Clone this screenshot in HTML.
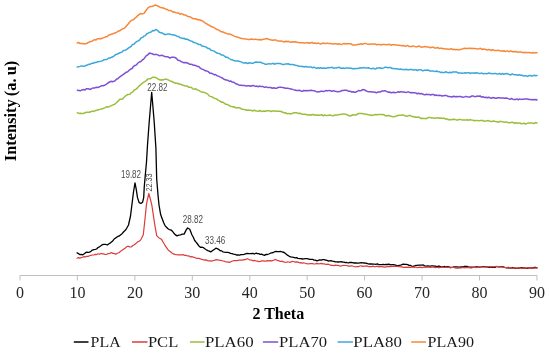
<!DOCTYPE html>
<html><head><meta charset="utf-8"><style>html,body{margin:0;padding:0;background:#fff;}svg{display:block;}</style></head>
<body><svg width="550" height="353" viewBox="0 0 550 353">
<rect width="550" height="353" fill="#fff"/>
<line x1="20" y1="275.5" x2="537" y2="275.5" stroke="#bfbfbf" stroke-width="1"/>
<line x1="20.0" y1="275.5" x2="20.0" y2="280.5" stroke="#bfbfbf" stroke-width="1"/><line x1="77.4" y1="275.5" x2="77.4" y2="280.5" stroke="#bfbfbf" stroke-width="1"/><line x1="134.9" y1="275.5" x2="134.9" y2="280.5" stroke="#bfbfbf" stroke-width="1"/><line x1="192.3" y1="275.5" x2="192.3" y2="280.5" stroke="#bfbfbf" stroke-width="1"/><line x1="249.8" y1="275.5" x2="249.8" y2="280.5" stroke="#bfbfbf" stroke-width="1"/><line x1="307.2" y1="275.5" x2="307.2" y2="280.5" stroke="#bfbfbf" stroke-width="1"/><line x1="364.6" y1="275.5" x2="364.6" y2="280.5" stroke="#bfbfbf" stroke-width="1"/><line x1="422.1" y1="275.5" x2="422.1" y2="280.5" stroke="#bfbfbf" stroke-width="1"/><line x1="479.5" y1="275.5" x2="479.5" y2="280.5" stroke="#bfbfbf" stroke-width="1"/><line x1="537.0" y1="275.5" x2="537.0" y2="280.5" stroke="#bfbfbf" stroke-width="1"/>
<g font-family="Liberation Serif, serif" font-size="16" fill="#262626"><text x="20.0" y="298.4" text-anchor="middle">0</text><text x="77.4" y="298.4" text-anchor="middle">10</text><text x="134.9" y="298.4" text-anchor="middle">20</text><text x="192.3" y="298.4" text-anchor="middle">30</text><text x="249.8" y="298.4" text-anchor="middle">40</text><text x="307.2" y="298.4" text-anchor="middle">50</text><text x="364.6" y="298.4" text-anchor="middle">60</text><text x="422.1" y="298.4" text-anchor="middle">70</text><text x="479.5" y="298.4" text-anchor="middle">80</text><text x="537.0" y="298.4" text-anchor="middle">90</text></g>
<polyline points="77.1,252.9 78.4,253.6 79.7,254.6 81.1,254.4 82.5,254.9 83.9,254.0 85.3,252.9 86.7,252.2 88.2,252.4 89.6,252.1 91.0,251.2 92.4,250.1 93.8,249.7 95.2,249.4 96.6,249.0 98.0,247.5 99.5,246.8 100.9,245.8 102.3,244.7 103.7,244.4 105.5,244.3 107.3,245.0 109.0,243.7 110.8,242.6 112.4,241.3 114.1,239.1 115.7,237.9 117.5,236.7 119.3,235.9 120.7,234.7 122.1,233.7 123.5,232.0 125.0,230.5 126.4,228.8 128.5,225.0 130.5,216.0 132.0,204.0 133.5,192.0 135.0,182.9 136.3,189.7 137.5,197.6 139.2,202.7 140.9,203.5 142.6,202.2 143.7,197.6 144.3,186.3 145.3,175.0 146.5,162.0 147.5,145.0 149.2,122.0 151.7,92.3 154.2,122.0 155.9,148.0 156.7,179.0 158.1,196.0 159.0,205.0 160.7,214.8 163.7,222.8 165.0,225.6 166.3,227.0 167.7,228.5 169.2,229.6 170.7,229.9 172.1,230.9 173.5,232.7 175.2,234.6 177.0,235.9 178.8,235.2 180.6,234.8 182.3,234.1 184.1,234.1 186.2,229.9 187.6,228.0 189.8,229.2 191.9,234.8 193.3,237.3 194.7,240.5 196.1,242.1 197.5,244.0 198.9,245.9 200.4,247.3 201.8,247.1 203.2,247.5 204.8,248.7 206.3,249.7 207.8,250.6 209.3,251.1 210.8,251.9 212.3,250.8 213.8,249.7 215.9,248.2 217.2,248.6 218.6,249.3 219.9,250.5 221.4,250.8 222.9,251.8 224.4,252.2 225.9,252.3 227.5,252.4 229.0,252.7 230.5,253.3 232.0,253.7 233.5,254.2 235.0,254.3 236.5,255.0 238.0,255.0 239.5,255.1 241.0,254.6 242.5,254.7 244.0,254.3 245.6,253.8 247.1,253.3 248.6,253.7 250.1,253.6 251.6,253.5 253.0,253.3 254.4,254.0 255.9,253.2 257.3,253.5 258.7,253.6 260.1,254.3 261.6,254.2 263.1,254.9 264.5,255.4 266.0,254.4 267.4,254.5 268.9,254.0 270.4,253.2 271.8,252.8 273.3,252.5 274.7,251.7 276.1,251.5 277.6,251.7 279.1,251.6 280.5,251.4 282.4,252.0 284.2,252.5 286.0,253.9 287.8,255.4 289.3,256.3 290.7,256.9 292.2,257.1 293.6,257.4 295.1,257.8 296.6,257.6 298.0,258.3 299.5,258.6 300.9,258.6 302.4,259.0 303.8,258.9 305.3,258.7 306.8,258.7 308.2,258.9 309.7,259.4 311.1,259.4 312.6,259.3 314.0,260.1 315.4,260.2 316.9,260.9 318.3,260.3 319.8,259.9 321.2,260.2 322.7,259.7 324.1,259.6 325.5,260.0 326.9,260.3 328.3,261.0 329.7,260.9 331.1,260.7 332.5,261.1 333.9,261.3 335.3,261.8 336.7,261.8 338.1,262.0 339.5,261.8 341.0,261.7 342.4,262.0 343.9,262.1 345.3,262.7 346.8,262.5 348.3,263.0 349.7,262.4 351.2,262.5 352.6,262.7 354.1,263.0 355.6,262.8 357.0,263.0 358.5,263.1 359.9,262.8 361.4,262.6 362.8,262.9 364.3,263.0 365.7,263.1 367.2,263.5 368.6,264.0 370.1,264.0 371.5,264.0 373.0,264.1 374.4,264.2 375.9,264.3 377.4,263.8 378.8,264.6 380.3,264.6 381.7,264.7 383.2,264.4 384.6,264.7 386.1,264.4 387.5,264.5 389.0,264.2 390.4,264.8 391.9,264.7 393.3,264.6 394.8,264.9 396.2,265.3 397.7,265.9 399.2,265.3 400.7,265.1 402.1,264.5 403.6,264.2 405.1,264.3 406.4,264.3 407.7,264.7 409.0,265.3 410.3,265.3 411.6,266.1 413.1,266.3 414.5,265.9 416.0,265.4 417.4,265.3 418.9,265.2 420.3,265.1 421.8,265.1 423.3,265.0 424.7,265.8 426.2,266.1 427.6,265.9 429.1,266.1 430.4,266.1 431.7,265.9 433.1,265.9 434.4,266.2 435.7,266.2 437.0,266.8 438.3,266.2 439.6,266.2 441.0,267.1 442.3,266.8 443.6,266.8 444.9,266.5 446.3,266.9 447.6,266.5 448.9,266.9 450.2,267.4 451.6,267.3 452.9,267.2 454.2,266.8 455.5,266.9 456.9,266.8 458.2,267.1 459.7,267.2 461.1,266.9 462.6,267.0 464.0,266.5 465.5,266.5 466.9,266.3 468.3,266.9 469.8,267.1 471.2,267.1 472.6,267.1 474.0,267.1 475.4,267.1 476.9,266.7 478.3,267.1 479.7,267.1 481.1,266.9 482.5,266.6 483.9,266.6 485.2,266.8 486.6,266.8 488.0,267.1 489.4,267.4 490.8,266.9 492.2,267.3 493.6,267.3 494.9,267.3 496.3,266.7 497.7,266.6 499.1,266.8 500.4,266.7 501.7,266.7 503.1,266.9 504.4,267.3 505.7,267.7 507.0,267.8 508.3,267.5 509.6,267.8 511.0,268.1 512.3,267.5 513.6,268.0 515.0,268.1 516.4,268.3 517.7,268.2 519.1,268.2 520.5,267.9 521.9,267.6 523.2,268.2 524.6,267.8 526.0,268.2 527.4,268.3 528.7,267.8 530.1,267.8 531.5,268.2 532.9,268.0 534.2,267.5 535.6,267.5 537.0,267.8" fill="none" stroke="#000000" stroke-width="1.3" stroke-linejoin="round" stroke-linecap="round"/>
<polyline points="77.1,258.2 78.4,257.6 79.8,258.1 81.2,257.7 82.5,257.2 83.9,256.6 85.3,256.9 86.7,256.3 88.1,256.4 89.6,255.8 91.0,255.3 92.4,255.0 93.8,255.0 95.2,254.4 96.6,254.6 98.0,253.8 99.5,254.3 100.9,253.5 102.3,253.8 103.7,253.9 105.1,254.5 106.5,254.3 108.2,253.6 109.8,253.4 111.5,252.5 112.9,253.4 114.3,253.4 115.7,254.3 117.5,253.2 119.3,252.5 121.0,250.9 122.8,249.7 125.0,248.2 127.1,246.4 128.4,246.4 129.7,246.9 131.0,247.0 132.6,245.7 134.3,244.7 135.9,243.6 137.6,241.9 139.2,241.3 140.9,239.6 143.3,234.7 144.8,220.8 145.4,215.0 146.4,204.9 147.1,201.0 148.8,193.5 150.3,199.0 151.8,204.9 154.8,224.8 156.7,235.7 158.7,237.7 160.2,238.5 161.7,239.6 163.2,242.2 164.7,244.8 166.2,247.1 167.7,249.3 169.0,250.8 170.3,251.5 171.6,252.7 173.3,253.9 175.0,254.3 176.5,254.6 178.0,254.8 179.3,254.9 180.7,254.9 182.0,254.9 183.4,254.7 184.8,255.4 186.2,255.4 187.6,256.0 189.0,255.9 190.4,256.9 191.9,256.6 193.3,257.2 194.7,257.5 196.1,258.1 197.6,258.3 199.0,258.4 200.4,258.9 201.8,259.3 203.2,259.6 204.7,260.2 206.1,259.9 207.5,260.6 208.9,260.9 210.3,260.8 211.7,261.2 213.1,260.5 214.5,260.4 215.9,259.7 217.6,259.9 219.3,260.2 221.0,260.3 222.7,261.0 224.4,261.2 225.9,262.0 227.5,261.9 229.0,262.4 230.5,261.9 232.0,261.3 233.5,260.7 235.0,260.6 236.5,260.6 238.0,260.3 239.5,260.2 241.0,260.2 242.5,260.1 244.0,259.6 245.6,259.6 247.1,258.7 248.6,259.3 250.1,260.0 251.6,260.1 253.0,260.8 254.4,260.4 255.9,261.0 257.3,261.2 258.7,261.6 260.2,261.5 261.6,260.9 263.1,260.9 264.5,261.2 266.0,261.1 267.4,260.7 268.9,260.8 270.3,260.6 271.8,260.9 273.6,260.3 275.5,259.4 277.3,260.4 279.1,260.9 280.6,261.5 282.0,261.1 283.5,261.9 284.9,262.2 286.4,262.3 287.8,261.8 289.3,262.3 290.7,262.2 292.2,261.4 293.6,261.5 295.1,262.1 296.5,261.8 298.0,262.1 299.4,262.8 300.9,262.6 302.4,263.1 303.8,262.8 305.3,263.3 306.7,263.6 308.2,263.8 309.7,263.7 311.1,263.5 312.6,263.6 314.0,264.0 315.5,263.8 316.9,263.4 318.4,263.8 319.8,263.7 321.3,263.4 322.7,263.8 324.1,263.8 325.5,264.3 326.9,264.4 328.3,264.2 329.7,264.8 331.1,265.4 332.5,265.4 333.9,265.7 335.3,265.1 336.7,265.4 338.1,265.3 339.5,265.9 341.0,266.1 342.4,265.5 343.9,265.3 345.3,265.5 346.8,265.5 348.3,266.1 349.7,266.2 351.2,265.9 352.6,266.0 354.1,266.5 355.6,266.8 357.0,266.5 358.5,266.6 359.9,266.0 361.4,265.9 362.8,266.4 364.3,266.2 365.8,266.2 367.2,265.9 368.6,266.7 370.1,266.5 371.6,266.7 373.0,266.1 374.4,266.8 375.9,266.5 377.4,266.2 378.8,266.9 380.3,266.6 381.7,266.6 383.2,266.8 384.6,267.2 386.1,266.9 387.6,266.6 389.0,266.4 390.5,266.7 391.9,266.4 393.4,266.2 394.8,266.5 396.2,266.3 397.6,266.3 399.0,266.6 400.5,266.8 401.9,266.9 403.3,267.4 404.7,267.3 406.1,267.1 407.5,267.4 408.9,267.1 410.3,267.3 411.7,267.0 413.1,267.2 414.5,267.5 415.8,267.0 417.2,267.6 418.5,267.4 419.8,267.1 421.1,267.3 422.5,267.7 423.8,266.9 425.1,267.5 426.4,267.1 427.8,267.1 429.1,267.1 430.4,267.4 431.7,267.1 433.1,267.2 434.4,267.4 435.7,267.7 437.0,267.2 438.3,267.7 439.6,267.6 441.0,267.5 442.3,267.4 443.6,267.5 444.9,267.4 446.3,267.2 447.6,267.3 449.0,267.3 450.3,267.9 451.7,267.5 453.0,267.5 454.4,267.4 455.7,268.2 457.1,268.2 458.4,268.1 459.8,267.8 461.1,268.0 462.4,267.7 463.8,267.7 465.1,267.8 466.4,267.4 467.7,267.6 469.1,267.4 470.4,268.0 471.7,267.9 473.1,267.5 474.4,267.1 475.7,267.7 477.0,267.1 478.4,267.0 479.7,267.1 481.1,266.6 482.5,267.0 483.9,267.0 485.2,267.0 486.6,266.7 488.0,267.0 489.4,266.5 490.8,266.7 492.2,266.5 493.6,266.8 494.9,266.5 496.3,266.4 497.7,266.6 499.1,266.8 500.4,266.7 501.7,267.1 503.1,267.2 504.4,267.5 505.7,267.5 507.0,267.6 508.3,267.9 509.6,267.6 511.0,267.6 512.3,268.3 513.6,268.0 515.0,267.7 516.4,268.2 517.7,268.1 519.1,267.5 520.5,268.2 521.9,268.3 523.2,268.0 524.6,268.1 526.0,268.2 527.4,267.6 528.7,267.9 530.1,267.9 531.5,268.1 532.9,268.1 534.2,268.1 535.6,267.9 537.0,267.8" fill="none" stroke="#DC3C3C" stroke-width="1.2" stroke-linejoin="round" stroke-linecap="round"/>
<polyline points="77.4,112.8 79.0,113.4 80.5,113.3 82.0,113.5 83.6,113.4 85.0,112.8 86.4,112.3 87.9,112.2 89.3,112.3 90.7,111.8 92.1,111.1 93.5,111.5 94.9,110.8 96.6,110.3 98.3,109.7 99.7,109.4 101.2,109.0 102.6,108.7 104.0,108.1 105.4,107.6 106.8,106.7 108.2,107.1 109.6,106.3 111.0,105.9 112.4,105.1 113.9,104.5 115.3,103.8 117.0,102.3 118.7,100.4 120.2,99.2 121.7,99.3 123.2,98.3 124.7,96.8 126.3,95.3 127.8,94.5 130.0,94.2 131.4,92.6 132.9,91.9 134.3,90.0 135.7,89.3 137.2,88.2 138.6,86.4 140.1,85.2 141.6,83.8 143.1,82.7 144.7,81.7 146.2,80.6 147.7,79.1 149.3,78.8 150.9,78.4 152.5,77.3 154.1,77.3 155.7,77.6 157.3,78.4 158.9,79.6 160.5,80.0 161.9,79.7 163.4,79.9 164.8,79.2 166.3,79.2 167.7,79.6 170.0,80.9 171.5,81.2 173.1,82.3 174.6,82.7 175.9,83.2 177.3,83.3 178.8,84.0 180.2,84.1 181.7,84.8 183.2,85.3 184.6,85.7 185.9,86.1 187.3,86.1 188.6,87.3 190.0,87.3 191.5,87.5 192.9,88.9 194.4,89.3 195.8,88.8 197.3,89.9 198.8,90.4 200.3,91.4 201.9,92.2 203.4,92.2 204.9,92.6 206.4,93.4 207.8,94.1 209.1,95.9 210.5,96.4 212.0,96.8 213.5,97.9 215.0,98.5 216.5,98.9 218.0,100.1 219.5,100.9 221.2,102.2 222.8,102.1 224.5,103.3 225.9,104.3 227.2,104.5 228.6,105.1 230.2,106.2 231.8,106.4 233.2,107.0 234.5,106.8 235.9,107.9 237.3,107.8 238.7,107.7 240.0,108.0 241.4,108.9 242.8,109.2 244.1,109.5 245.5,109.7 246.8,110.3 248.2,110.0 249.7,110.3 251.2,110.3 252.6,111.0 254.1,110.2 255.5,110.8 257.0,111.1 258.5,111.2 260.0,110.5 261.5,111.4 263.0,111.2 264.5,111.0 265.8,111.4 267.1,110.7 268.4,110.8 269.7,110.8 271.0,111.5 272.3,111.0 273.6,110.9 275.1,111.0 276.6,111.3 278.1,111.3 279.7,111.3 281.2,111.5 282.7,112.2 284.2,112.9 285.6,112.7 287.1,113.8 288.5,113.4 290.0,114.0 291.4,113.4 292.8,113.4 294.1,112.7 295.5,112.7 297.0,112.8 298.5,113.6 300.0,113.3 301.6,114.0 303.2,114.2 304.8,114.3 306.4,114.5 307.7,115.0 309.0,115.1 310.3,114.8 311.6,115.0 313.0,114.3 314.3,115.2 315.6,114.9 316.9,115.3 318.2,115.1 319.5,115.3 320.8,115.0 322.1,114.8 323.4,115.8 324.7,115.0 326.0,115.4 327.3,115.5 328.8,115.3 330.3,115.1 331.9,115.6 333.4,115.8 334.9,114.9 336.4,115.1 337.8,115.1 339.3,114.4 340.7,114.5 342.2,114.1 343.6,114.0 345.0,114.1 346.4,114.5 347.7,115.0 349.1,115.8 350.5,116.0 351.8,115.2 353.2,114.7 354.6,115.1 355.9,115.0 357.3,114.1 358.6,113.5 360.0,113.6 361.3,113.5 362.6,113.6 363.9,114.1 365.2,114.0 366.5,114.4 367.8,114.6 369.1,115.1 370.5,115.1 371.8,115.4 373.2,115.1 374.6,114.7 375.9,114.6 377.3,114.7 378.6,114.4 380.0,114.5 381.5,114.6 382.9,114.5 384.4,115.0 385.8,116.1 387.3,115.8 388.8,115.5 390.4,116.1 391.9,116.4 393.5,116.8 395.0,116.5 396.5,115.9 397.9,115.6 399.4,115.3 400.8,115.2 402.3,115.0 403.7,115.1 405.0,115.9 406.4,115.9 407.8,116.2 409.1,115.4 410.5,115.6 411.8,116.5 413.2,116.5 414.5,117.2 415.8,117.0 417.1,117.4 418.4,117.0 419.7,117.7 421.0,118.5 422.3,118.3 423.7,118.6 425.0,118.6 426.4,118.7 427.7,117.8 429.1,117.6 430.5,117.6 431.8,118.0 433.2,118.1 434.5,118.3 435.9,118.0 437.2,117.9 438.6,117.7 440.0,118.2 441.3,118.1 442.7,118.4 444.1,118.1 445.4,119.1 446.8,118.8 448.1,119.7 449.5,119.5 450.9,119.7 452.2,119.4 453.6,119.2 455.0,119.4 456.3,119.9 457.7,120.0 459.0,119.4 460.4,119.4 461.8,119.9 463.1,120.0 464.5,120.0 465.9,119.9 467.3,119.8 468.8,120.2 470.2,119.6 471.6,120.0 473.0,120.2 474.5,120.8 475.9,120.5 477.3,120.4 478.7,120.9 480.1,120.5 481.5,120.4 482.9,120.5 484.3,121.3 485.7,121.1 487.1,120.8 488.5,120.6 489.9,121.2 491.3,121.4 492.7,121.2 494.1,121.1 495.5,121.5 496.9,121.8 498.3,122.2 499.7,121.5 501.1,121.4 502.5,121.8 503.9,122.0 505.2,122.3 506.6,121.9 508.0,122.7 509.4,122.7 510.8,122.5 512.2,122.3 513.6,122.7 514.9,123.3 516.2,122.8 517.5,123.4 518.8,122.9 520.1,123.0 521.4,123.8 522.7,123.6 524.1,123.3 525.6,124.0 527.0,123.4 528.4,123.0 529.9,122.9 531.3,123.1 532.7,123.3 534.1,123.5 535.6,122.6 537.0,122.9" fill="none" stroke="#9BBE3C" stroke-width="1.5" stroke-linejoin="round" stroke-linecap="round"/>
<polyline points="77.4,90.2 78.8,90.4 80.2,90.8 81.9,89.9 83.6,89.6 85.1,89.9 86.6,88.7 88.1,88.8 90.4,89.4 91.9,88.4 93.4,87.9 94.9,87.9 96.3,87.3 97.6,87.5 99.0,87.0 100.3,86.4 101.7,85.7 103.2,85.8 104.7,85.2 106.2,84.3 107.9,83.0 109.6,82.0 111.0,81.3 112.4,81.8 113.9,81.2 115.3,80.6 116.6,79.0 117.9,78.7 119.2,77.3 120.5,76.4 121.9,75.3 123.4,74.4 124.8,73.3 126.3,72.2 127.7,71.8 129.2,70.3 130.6,69.1 132.1,68.5 133.5,66.3 135.0,65.5 136.5,64.9 137.9,63.0 139.4,62.0 140.8,61.5 142.3,60.0 143.7,59.1 145.0,57.4 146.3,55.7 147.7,54.9 149.5,53.1 150.9,53.4 152.2,53.7 153.6,54.6 155.0,54.5 156.4,54.4 157.8,54.9 159.1,55.7 160.5,55.5 161.9,55.2 163.4,55.9 164.8,56.6 166.3,56.8 167.7,56.7 170.0,58.2 171.8,57.2 173.6,57.3 175.1,57.6 176.5,58.5 178.0,60.3 179.4,60.4 180.9,61.5 182.4,62.1 183.8,62.7 185.3,62.4 186.7,62.7 188.2,63.3 189.5,64.2 190.8,64.3 192.1,64.4 193.4,65.3 194.7,65.3 196.0,65.7 197.3,66.4 198.8,66.6 200.3,68.2 201.9,69.1 203.4,69.5 204.9,70.6 206.4,70.9 208.2,71.6 210.0,73.3 211.4,73.3 212.8,73.9 214.1,74.7 215.5,74.5 217.3,75.9 219.1,76.4 220.4,77.1 221.8,77.7 223.2,78.7 224.5,79.6 226.3,80.0 228.2,80.5 229.5,81.4 230.9,81.0 232.2,82.1 233.6,82.2 235.4,83.5 237.3,84.2 238.7,84.9 240.0,85.2 241.3,85.3 242.7,85.5 244.6,85.6 246.4,86.0 247.8,85.8 249.1,85.7 250.5,86.2 251.8,85.8 253.7,85.6 255.5,86.4 256.9,86.1 258.2,86.7 259.5,86.1 260.9,86.4 262.7,86.4 264.5,87.3 266.2,86.9 267.9,87.6 269.6,87.6 270.9,87.5 272.3,88.3 273.6,87.8 275.1,88.2 276.6,88.3 278.1,87.4 279.7,87.2 281.2,87.2 282.7,87.6 284.0,87.8 285.3,88.3 286.6,88.2 287.9,88.2 289.2,88.6 290.5,89.0 291.8,89.1 293.3,89.6 294.8,90.0 296.4,90.4 297.9,90.5 299.4,90.2 300.9,90.9 302.3,91.2 303.8,90.5 305.2,90.7 306.7,90.4 308.2,90.7 309.6,90.4 311.0,90.3 312.5,90.6 313.9,90.8 315.3,91.0 316.8,92.0 318.2,91.8 319.6,91.7 320.9,91.3 322.3,91.2 323.6,91.6 325.0,90.9 326.4,90.5 327.7,90.9 329.1,90.4 330.6,90.8 332.0,91.4 333.5,90.6 334.9,91.3 336.4,91.5 337.8,91.7 339.1,91.6 340.5,91.5 341.9,90.4 343.2,90.6 344.6,90.3 345.9,90.2 347.3,90.4 348.7,91.3 350.2,91.2 351.6,92.0 353.1,91.7 354.5,92.2 355.9,92.2 357.2,91.3 358.6,90.6 360.0,90.8 361.3,90.5 362.7,89.6 364.3,89.7 365.9,90.8 367.5,91.4 369.1,91.8 370.6,91.7 372.0,92.0 373.5,91.9 374.9,92.2 376.4,92.7 377.8,92.1 379.3,92.1 380.7,91.8 382.2,90.9 383.6,90.9 385.1,90.7 386.5,91.4 388.0,92.2 389.4,92.0 390.9,92.7 392.3,92.4 393.8,92.2 395.2,92.8 396.7,92.4 398.2,91.8 399.6,92.2 401.0,91.6 402.3,91.9 403.7,91.9 405.0,92.2 406.4,92.4 407.8,91.9 409.1,92.1 410.5,92.8 411.8,92.6 413.2,92.8 414.5,92.7 415.8,92.9 417.2,93.8 418.5,93.2 419.8,93.7 421.1,93.6 422.4,93.9 423.7,94.5 425.1,94.8 426.4,94.3 427.7,94.6 429.1,94.4 430.5,95.0 432.0,94.5 433.4,94.4 434.8,95.5 436.2,95.0 437.7,95.6 439.1,95.2 440.5,95.4 442.0,96.0 443.5,95.7 445.0,95.6 446.5,95.6 448.0,96.4 449.5,96.5 450.9,96.7 452.2,97.0 453.6,96.2 455.0,96.8 456.3,96.5 457.7,96.7 459.0,96.4 460.4,96.6 461.8,96.9 463.1,97.3 464.5,96.9 465.9,96.4 467.3,96.7 468.8,96.9 470.2,97.0 471.6,96.1 473.0,95.9 474.5,96.7 475.9,96.6 477.3,96.0 478.7,96.2 480.1,95.9 481.5,97.1 482.9,96.7 484.4,97.4 485.8,97.3 487.2,97.8 488.6,97.2 490.0,97.8 491.3,98.2 492.6,97.6 494.0,97.8 495.3,98.3 496.6,98.3 497.9,97.7 499.2,97.7 500.5,98.0 501.9,98.1 503.2,98.0 504.5,98.2 505.9,97.9 507.2,98.2 508.6,98.9 510.0,99.3 511.4,98.5 512.8,99.2 514.1,99.6 515.5,99.5 516.9,98.9 518.2,99.8 519.6,98.9 521.0,99.4 522.3,99.3 523.7,99.3 525.0,98.9 526.4,99.1 527.7,99.1 529.0,99.4 530.4,99.4 531.7,99.7 533.0,99.6 534.4,99.7 535.7,99.4 537.0,100.0" fill="none" stroke="#7E50D2" stroke-width="1.5" stroke-linejoin="round" stroke-linecap="round"/>
<polyline points="77.2,66.9 78.7,66.8 80.1,66.4 81.6,65.9 83.0,66.3 84.5,66.0 85.9,65.5 87.4,65.0 88.8,64.3 90.3,64.2 91.7,63.3 93.2,63.3 94.7,62.5 96.2,62.4 97.8,61.7 99.3,61.6 100.8,61.3 102.3,60.9 104.1,59.7 105.9,59.6 107.3,59.2 108.7,58.0 110.0,58.1 111.4,57.3 112.9,56.8 114.4,55.7 116.0,54.4 117.5,54.1 119.0,53.2 120.5,52.5 122.0,52.1 123.5,50.4 125.0,50.3 126.5,49.6 128.0,48.4 129.5,47.3 131.0,46.5 132.4,44.6 133.9,44.3 135.3,42.7 136.8,41.5 138.3,40.9 139.7,39.8 141.2,37.8 142.6,37.4 144.1,36.0 145.4,35.6 146.8,33.7 148.2,33.1 149.5,32.4 151.1,32.0 152.7,30.6 154.3,30.7 155.9,29.5 157.4,30.3 159.0,32.0 160.5,32.7 161.9,32.8 163.2,33.6 164.6,34.5 166.0,34.5 167.3,34.1 168.7,34.0 170.0,34.2 171.5,34.6 172.9,34.9 174.4,35.0 175.8,35.6 177.3,36.4 178.7,36.5 180.0,37.7 181.4,37.9 182.8,38.5 184.1,38.2 185.5,39.3 186.8,39.0 188.2,39.8 189.5,40.4 190.8,41.0 192.1,41.3 193.4,42.4 194.7,42.6 196.0,43.1 197.3,43.6 198.8,44.6 200.3,44.4 201.9,46.0 203.4,46.2 204.9,46.6 206.4,47.3 207.9,48.4 209.4,48.6 210.9,50.2 212.5,50.6 214.0,51.1 215.5,52.1 217.0,53.1 218.5,53.4 220.0,53.8 221.5,55.1 223.0,55.0 224.5,56.2 226.0,57.3 227.5,57.3 229.1,58.5 230.6,59.5 232.1,59.8 233.6,60.4 235.1,61.0 236.6,61.0 238.1,61.0 239.7,61.4 241.2,61.9 242.7,62.7 244.0,62.9 245.3,62.8 246.6,63.0 247.9,63.5 249.2,62.7 250.5,62.9 251.8,63.3 253.3,63.2 254.7,62.3 256.2,62.1 257.6,62.3 259.1,62.2 260.6,62.3 262.1,63.0 263.5,63.4 265.0,64.2 266.4,64.2 267.7,64.1 269.1,63.6 270.4,64.0 271.8,63.8 273.2,63.3 274.5,64.2 275.9,63.6 277.3,63.4 278.6,63.4 280.0,63.4 281.4,64.1 282.7,64.4 284.1,64.4 285.5,64.0 286.8,63.9 288.2,63.7 289.6,64.5 290.9,64.5 292.3,64.5 293.8,64.7 295.3,65.3 296.9,65.4 298.4,66.2 299.9,66.3 301.4,66.4 302.8,66.3 304.2,67.1 305.6,66.3 307.0,67.0 308.4,67.0 309.8,66.9 311.1,66.9 312.5,67.8 313.9,67.1 315.3,67.8 316.7,68.4 318.1,67.7 319.5,68.2 320.9,67.8 322.3,68.2 323.7,68.1 325.1,68.2 326.5,68.3 327.9,67.6 329.3,67.7 330.7,67.6 332.1,67.3 333.5,68.2 334.9,68.0 336.3,67.9 337.7,67.6 339.0,67.2 340.4,68.2 341.7,68.2 343.0,68.0 344.3,68.4 345.7,68.1 347.0,68.0 348.3,68.0 349.6,68.2 351.0,68.1 352.3,68.7 353.6,68.4 354.9,68.7 356.2,68.5 357.5,68.6 358.9,68.3 360.2,67.7 361.5,67.9 362.8,67.7 364.1,67.6 365.6,68.1 367.1,67.9 368.6,67.8 370.0,68.4 371.5,68.9 373.0,68.2 374.5,68.7 375.8,69.0 377.1,67.9 378.5,68.0 379.8,67.8 381.1,68.2 382.4,68.3 383.8,67.9 385.1,67.3 386.4,67.3 387.8,67.9 389.3,67.5 390.7,67.6 392.1,68.5 393.5,68.4 395.0,68.7 396.4,68.7 397.8,69.0 399.2,69.4 400.6,69.0 402.0,69.5 403.4,69.4 404.8,69.7 406.1,69.3 407.5,69.7 408.9,69.7 410.3,69.5 411.7,69.5 413.1,70.0 414.5,70.0 415.9,69.6 417.3,70.6 418.7,69.8 420.1,69.8 421.5,69.9 422.9,70.9 424.3,70.3 425.7,70.2 427.1,70.1 428.5,70.2 429.9,71.0 431.3,71.0 432.7,70.9 434.0,71.3 435.3,71.5 436.6,71.0 437.9,71.7 439.2,71.7 440.5,72.4 441.8,72.2 443.2,72.6 444.5,72.6 445.9,71.7 447.3,72.6 448.6,72.7 450.0,72.2 451.4,72.8 452.7,71.9 454.1,72.1 455.5,72.1 456.8,72.1 458.2,73.0 459.6,73.1 460.9,72.9 462.3,73.2 463.7,73.1 465.0,72.8 466.4,73.1 467.7,72.7 469.0,72.7 470.4,73.5 471.7,72.9 473.0,73.0 474.3,73.2 475.7,72.7 477.0,73.0 478.3,73.1 479.6,73.6 480.9,73.2 482.3,73.2 483.6,73.9 484.9,73.4 486.2,73.8 487.6,73.6 488.9,73.0 490.2,73.4 491.5,73.5 492.9,73.9 494.2,73.4 495.5,73.6 496.9,73.9 498.3,73.8 499.7,73.5 501.1,74.3 502.5,73.5 503.9,74.4 505.2,73.7 506.6,73.6 508.0,73.9 509.4,74.6 510.8,74.9 512.2,73.9 513.6,74.5 515.0,74.7 516.4,74.8 517.9,75.3 519.3,74.8 520.7,75.3 522.1,75.3 523.6,76.0 525.0,75.6 526.4,76.0 527.7,76.4 529.0,75.6 530.4,75.5 531.7,76.0 533.0,75.7 534.4,75.2 535.7,75.7 537.0,75.5" fill="none" stroke="#3CA8D8" stroke-width="1.5" stroke-linejoin="round" stroke-linecap="round"/>
<polyline points="77.2,42.9 78.7,42.6 80.1,43.5 81.6,43.6 83.0,43.8 84.5,43.8 85.9,43.8 87.4,43.0 88.8,42.3 90.3,41.6 91.7,41.5 93.2,40.4 94.6,39.6 95.9,40.1 97.3,38.8 98.7,38.7 100.0,38.4 101.4,38.7 102.7,38.0 104.1,37.6 105.6,36.8 107.0,36.7 108.5,35.3 109.9,34.8 111.4,34.2 112.8,33.7 114.1,33.3 115.5,32.8 116.8,32.1 118.2,31.2 119.5,30.8 121.0,29.8 122.6,28.8 124.1,28.4 125.4,27.2 126.8,25.5 128.2,24.0 129.5,22.2 130.9,20.8 132.2,20.1 133.6,19.5 135.0,18.2 136.4,17.1 137.8,15.5 139.1,14.7 140.5,13.6 142.3,13.9 144.1,13.3 145.6,11.0 147.1,9.0 148.6,7.3 150.2,6.5 151.8,6.4 153.4,6.0 155.0,5.1 156.4,5.3 157.8,6.0 159.1,6.7 160.5,7.6 162.2,7.7 164.0,8.2 165.5,9.0 167.1,9.4 168.6,10.5 169.9,10.6 171.3,10.8 172.7,12.0 174.0,11.8 175.7,12.7 177.3,13.1 178.7,13.0 180.0,14.2 181.4,13.6 182.8,14.2 184.1,15.1 185.5,14.9 186.8,15.9 188.2,16.5 189.6,16.8 190.9,17.2 192.2,18.3 193.6,18.8 195.1,18.7 196.6,19.2 198.1,19.8 199.7,19.8 201.2,20.5 202.7,21.0 204.6,22.6 206.4,23.6 207.9,24.7 209.4,25.3 210.9,26.3 212.5,27.0 214.0,27.5 215.5,28.7 217.0,29.5 218.5,29.9 220.0,31.0 221.5,31.8 223.0,32.0 224.5,32.7 226.0,33.2 227.4,33.9 228.9,33.9 230.3,34.2 231.8,34.9 233.3,35.7 234.7,36.4 236.2,36.8 237.6,37.3 239.1,37.6 240.6,38.3 242.1,38.5 243.6,38.8 245.2,38.9 246.7,39.1 248.2,39.6 249.7,39.6 251.1,39.0 252.6,39.2 254.0,39.5 255.5,39.1 256.9,39.6 258.2,39.7 259.5,39.5 260.9,40.0 262.3,39.5 263.6,39.2 265.0,39.0 266.4,38.5 268.0,39.0 269.6,39.6 271.1,39.9 272.6,40.3 274.1,40.0 275.6,39.9 277.1,40.7 278.6,41.1 280.2,40.9 281.7,41.2 283.2,41.5 284.5,42.1 285.8,41.1 287.1,41.7 288.4,41.3 289.7,42.0 291.0,42.2 292.3,41.8 293.8,42.0 295.3,41.7 296.9,42.3 298.4,42.4 299.9,42.8 301.4,42.7 302.7,42.7 304.0,42.9 305.3,43.1 306.6,42.7 307.9,42.6 309.2,43.2 310.5,42.7 312.0,42.5 313.5,43.2 315.0,43.0 316.5,43.6 318.0,43.0 319.5,43.6 320.8,44.1 322.1,43.4 323.4,43.1 324.7,43.4 326.0,43.5 327.3,43.1 328.6,43.6 330.1,43.6 331.6,43.7 333.1,44.1 334.7,43.8 336.2,43.8 337.7,44.2 339.0,43.8 340.3,44.3 341.6,44.4 342.9,43.9 344.2,43.5 345.5,44.0 346.8,43.6 348.3,43.7 349.7,43.8 351.2,44.0 352.6,44.9 354.1,44.9 355.5,45.1 357.0,44.7 358.4,44.3 359.8,44.2 361.2,43.7 362.7,44.3 364.1,43.6 365.5,43.5 366.9,43.9 368.3,44.2 369.7,44.3 371.1,44.0 372.6,43.9 374.0,44.3 375.4,43.9 376.8,44.8 378.2,44.5 379.6,44.4 381.0,45.0 382.4,44.4 383.8,44.5 385.2,44.5 386.6,44.7 388.0,44.5 389.4,44.3 390.8,45.2 392.2,44.7 393.6,44.7 395.0,44.8 396.4,45.1 397.8,45.2 399.2,45.2 400.6,45.6 402.0,45.7 403.4,45.4 404.8,46.2 406.1,46.2 407.5,45.4 408.9,46.4 410.3,46.5 411.7,46.5 413.1,45.9 414.5,46.4 415.8,46.8 417.2,46.7 418.5,46.1 419.8,46.2 421.1,47.3 422.5,47.1 423.8,46.7 425.1,46.6 426.4,46.7 427.8,46.9 429.1,47.3 430.5,47.7 431.9,47.3 433.3,47.2 434.7,48.1 436.2,48.1 437.6,47.5 439.0,48.4 440.4,48.2 441.8,48.2 443.2,48.7 444.5,48.7 445.9,49.1 447.3,49.1 448.6,49.3 450.0,49.1 451.4,48.8 452.7,49.5 454.1,49.3 455.5,49.7 456.9,49.4 458.2,49.9 459.6,49.6 461.0,49.4 462.3,48.9 463.7,48.6 465.0,48.3 466.4,48.5 467.8,48.5 469.2,48.1 470.6,48.5 472.0,48.2 473.5,48.6 474.9,48.6 476.3,48.7 477.7,49.1 479.1,48.7 480.5,48.3 481.8,49.4 483.2,49.1 484.6,49.3 485.9,49.6 487.3,49.9 488.7,49.6 490.0,49.7 491.4,50.5 492.8,49.6 494.1,50.4 495.5,50.4 496.9,50.6 498.3,50.1 499.7,50.8 501.1,50.9 502.5,51.3 503.9,50.7 505.2,51.5 506.6,51.1 508.0,51.1 509.4,51.7 510.8,50.8 512.2,51.7 513.6,51.5 515.0,51.8 516.4,51.6 517.9,52.3 519.3,51.9 520.7,52.1 522.1,52.3 523.6,52.7 525.0,52.2 526.4,52.7 527.7,52.6 529.0,52.6 530.4,52.8 531.7,53.1 533.0,52.5 534.4,53.1 535.7,52.6 537.0,52.7" fill="none" stroke="#F7883A" stroke-width="1.5" stroke-linejoin="round" stroke-linecap="round"/>
<g font-family="Liberation Sans, sans-serif" font-size="10" fill="#4d4d4d" text-anchor="middle">
<text transform="translate(157.4,90.6) scale(0.81,1)">22.82</text>
<text transform="translate(131,177.6) scale(0.81,1)">19.82</text>
<text transform="translate(152.2,182.4) rotate(-90) scale(0.8,1)" font-size="9">22.33</text>
<text transform="translate(192.8,222.6) scale(0.81,1)">28.82</text>
<text transform="translate(215.2,243.8) scale(0.81,1)">33.46</text>
</g>
<text x="278.3" y="318.6" text-anchor="middle" font-family="Liberation Serif, serif" font-weight="bold" font-size="16" fill="#000">2 Theta</text>
<text transform="translate(15.7,111) rotate(-90)" text-anchor="middle" font-family="Liberation Serif, serif" font-weight="bold" font-size="16.4" word-spacing="-1" fill="#000">Intensity (a. u)</text>
<g stroke-width="1.5">
<line x1="73.8" y1="342" x2="88.5" y2="342" stroke="#000000"/>
<line x1="132" y1="342" x2="147.5" y2="342" stroke="#DC3C3C"/>
<line x1="190" y1="342" x2="204.6" y2="342" stroke="#9BBE3C"/>
<line x1="262.9" y1="342" x2="278.2" y2="342" stroke="#7E50D2"/>
<line x1="337.6" y1="342" x2="352.9" y2="342" stroke="#3CA8D8"/>
<line x1="411.2" y1="342" x2="426" y2="342" stroke="#F7883A"/>
</g>
<g font-family="Liberation Serif, serif" font-size="15.5" fill="#1a1a1a">
<text x="90.6" y="346.8" textLength="30.1" lengthAdjust="spacingAndGlyphs">PLA</text>
<text x="147.9" y="346.8" textLength="30.4" lengthAdjust="spacingAndGlyphs">PCL</text>
<text x="205.0" y="346.8" textLength="48.6" lengthAdjust="spacingAndGlyphs">PLA60</text>
<text x="279.0" y="346.8" textLength="48.1" lengthAdjust="spacingAndGlyphs">PLA70</text>
<text x="353.3" y="346.8" textLength="48.6" lengthAdjust="spacingAndGlyphs">PLA80</text>
<text x="427.6" y="346.8" textLength="46.4" lengthAdjust="spacingAndGlyphs">PLA90</text>
</g>
</svg></body></html>
